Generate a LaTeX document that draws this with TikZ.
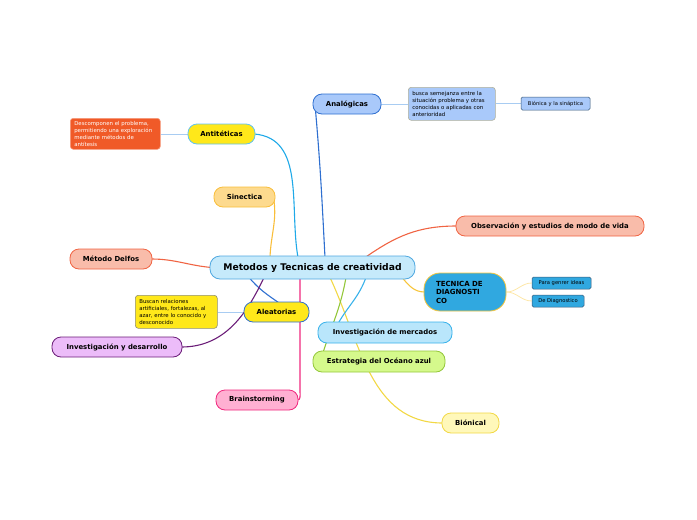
\documentclass[tikz,border=0pt]{standalone}
\usepackage{fontspec}
\setmainfont{DejaVu Sans}
\usetikzlibrary{backgrounds}
\definecolor{cenF}{HTML}{C6EAFB}\definecolor{cenD}{HTML}{4FA8E0}
\definecolor{anaF}{HTML}{A9C9FA}\definecolor{anaD}{HTML}{2E6FD0}
\definecolor{yelF}{HTML}{FFE81A}\definecolor{ltblue}{HTML}{1FA9E8}
\definecolor{orgF}{HTML}{F05A28}
\definecolor{sinF}{HTML}{FDDA8E}\definecolor{sinD}{HTML}{F9BE3A}
\definecolor{salF}{HTML}{F9BCAA}\definecolor{salD}{HTML}{F06443}
\definecolor{tecF}{HTML}{30A8E0}\definecolor{tecD}{HTML}{F7C53A}
\definecolor{smD}{HTML}{3A5A78}
\definecolor{greyD}{HTML}{8E8E70}
\definecolor{purF}{HTML}{ECBCF9}\definecolor{purD}{HTML}{6B1D78}
\definecolor{merF}{HTML}{B9E6FB}\definecolor{merD}{HTML}{39B2EA}
\definecolor{estF}{HTML}{D5F98C}\definecolor{estD}{HTML}{94C73A}
\definecolor{braF}{HTML}{FFB0D2}\definecolor{braD}{HTML}{F0287E}
\definecolor{bioF}{HTML}{FFF8BA}\definecolor{bioD}{HTML}{F2D845}
\definecolor{leafline}{HTML}{A8CCF2}
\definecolor{leafyel}{HTML}{FDE7A8}
\tikzset{
  pill/.style={rounded corners=9pt, draw, line width=0.8pt, inner sep=0pt,
    minimum height=20pt, font=\bfseries\fontsize{6.9}{8}\selectfont},
  tbox/.style={rounded corners=3pt, draw, line width=0.6pt, inner xsep=4pt, inner ysep=2pt,
    align=left, font=\fontsize{5.4}{6.8}\selectfont, anchor=north west},
  sbox/.style={rounded corners=1.5pt, draw=smD, line width=0.5pt, inner sep=0pt,
    minimum height=12pt, font=\fontsize{5.2}{6}\selectfont},
  conn/.style={line width=1.1pt},
  leaf/.style={line width=1pt, draw=leafline}
}
\begin{document}
\begin{tikzpicture}[x=1pt,y=-1pt]
\useasboundingbox (0,0) rectangle (697,520);
% nodes
\node[pill, fill=cenF, draw=cenD, minimum width=205pt, minimum height=23pt, rounded corners=10pt,
  font=\bfseries\fontsize{9.2}{11}\selectfont] (c) at (312.5,267.5) {Metodos y Tecnicas de creatividad};
\node[pill, fill=anaF, draw=anaD, minimum width=68pt] (ana) at (347,104) {Analógicas};
\node[tbox, fill=anaF, draw=greyD!70, text width=79pt, minimum height=33pt] (anat) at (408,87)
  {busca semejanza entre la\\situación problema y otras\\conocidas o aplicadas con\\anterioridad};
\node[sbox, fill=anaF, minimum width=69pt, minimum height=13pt] (bsin) at (555.5,103.5) {Biónica y la sináptica};
\node[pill, fill=yelF, draw=ltblue!70, minimum width=67pt] (ant) at (221.5,134) {Antitéticas};
\node[tbox, fill=orgF, draw=orgF!60, text=white, text width=82pt, minimum height=31pt] (antt) at (70,118)
  {Descomponen el problema,\\permitiendo una exploración\\mediante métodos de\\antítesis};
\node[pill, fill=sinF, draw=sinD, minimum width=61pt] (sin) at (244.5,197) {Sinectica};
\node[pill, fill=salF, draw=salD, minimum width=82pt] (del) at (111,259) {Método Delfos};
\node[pill, fill=salF, draw=salD, minimum width=188pt] (obs) at (550,226) {Observación y estudios de modo de vida};
\node[pill, fill=tecF, draw=tecD, minimum width=82pt, minimum height=38pt, rounded corners=16pt,
  align=left, text width=58pt, font=\bfseries\fontsize{7}{8.5}\selectfont] (tec) at (465,292) {TECNICA DE\\DIAGNOSTI\\CO};
\node[sbox, fill=tecF, minimum width=59pt] (p1) at (561.5,283) {Para genrer ideas};
\node[sbox, fill=tecF, minimum width=52pt] (p2) at (558,301) {De Diagnostico};
\node[pill, fill=yelF, draw=anaD, minimum width=65pt] (ale) at (276.5,312) {Aleatorias};
\node[tbox, fill=yelF, draw=greyD, text width=74pt, minimum height=33pt] (alet) at (135,295)
  {Buscan relaciones\\artificiales, fortalezas, al\\azar, entre lo conocido y\\desconocido};
\node[pill, fill=purF, draw=purD, minimum width=130pt] (inv) at (117,347) {Investigación y desarrollo};
\node[pill, fill=merF, draw=merD, minimum width=134pt, minimum height=21pt] (mer) at (385,332.5) {Investigación de mercados};
\node[pill, fill=estF, draw=estD, minimum width=132pt, minimum height=21pt] (est) at (379,361.5) {Estrategia del Océano azul};
\node[pill, fill=braF, draw=braD, minimum width=82pt] (bra) at (257,400) {Brainstorming};
\node[pill, fill=bioF, draw=bioD, minimum width=57pt] (bio) at (470.5,423) {Biónical};
\begin{pgfonlayer}{background}
% leaf connectors
\draw[leaf] (ana.east) -- (anat.west |- ana.east);
\draw[leaf] (anat.east |- bsin.west) -- (bsin.west);
\draw[leaf] (antt.east |- ant.west) -- (ant.west);
\draw[leaf] (alet.east |- ale.west) -- (ale.west);
\draw[line width=0.8pt, leafyel] (tec.east) to[out=0,in=180] (p1.west);
\draw[line width=0.8pt, leafyel] (tec.east) to[out=0,in=180] (p2.west);
% main connectors
\draw[conn, ltblue] ([xshift=-14.5pt,yshift=-2pt]c.north) to[out=100,in=-5] ([xshift=-1pt]ant.east);
\draw[conn, anaD] ([xshift=12.5pt,yshift=-2pt]c.north) to[out=93,in=-85] ([xshift=3pt,yshift=3pt]ana.south west);
\draw[conn, sinD] ([xshift=-42.5pt,yshift=-2pt]c.north) to[out=88,in=-80] ([xshift=-2pt]sin.east);
\draw[conn, salD] ([xshift=2pt]c.west) to[out=175,in=0] ([xshift=-1pt]del.east);
\draw[conn, salD] ([xshift=52.5pt,yshift=-2pt]c.north) to[out=35,in=180] ([xshift=1pt]obs.west);
\draw[conn, tecD] ([xshift=89.5pt,yshift=2pt]c.south) to[out=-50,in=180] ([xshift=1pt]tec.west);
\draw[conn, anaD] ([xshift=-63.5pt,yshift=2pt]c.south) to[out=-50,in=145] ([xshift=3.5pt,yshift=-2pt]ale.north);
\draw[conn, purD] ([xshift=-48.5pt,yshift=2pt]c.south) to[out=-115,in=0] ([xshift=-1pt]inv.east);
\draw[conn, braD] ([xshift=-12.5pt,yshift=2pt]c.south) -- ([xshift=-12.5pt,yshift=-112pt]c.south) to[out=-90,in=0] ([xshift=-1pt]bra.east);
\draw[conn, bioD] ([xshift=17.5pt,yshift=2pt]c.south) to[out=-65,in=180] ([xshift=1pt]bio.west);
\draw[conn, estD] ([xshift=33.5pt,yshift=2pt]c.south) to[out=-100,in=72] ([xshift=-56pt,yshift=-2pt]est.north);
\draw[conn, merD] ([xshift=53.5pt,yshift=2pt]c.south) to[out=-110,in=60] ([xshift=-47pt,yshift=-2pt]mer.north);
\end{pgfonlayer}
\end{tikzpicture}
\end{document}
